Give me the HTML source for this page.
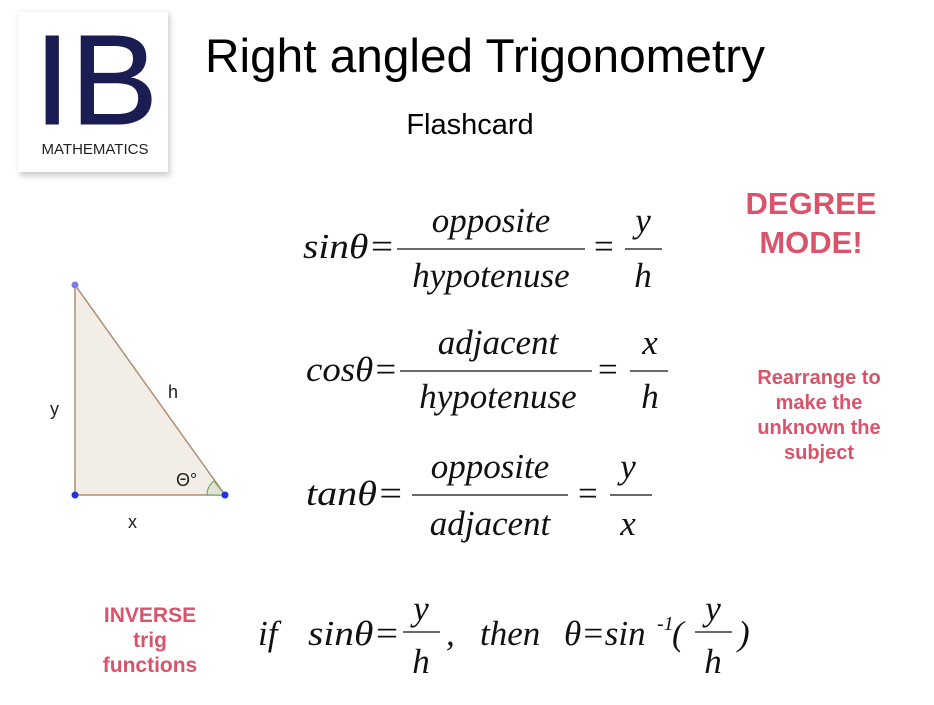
<!DOCTYPE html>
<html><head><meta charset="utf-8"><style>
html,body{margin:0;padding:0;background:#fff;width:934px;height:705px;overflow:hidden}
svg{display:block}
.s{font-family:"Liberation Sans",sans-serif}
.m{font-family:"Liberation Serif",serif;font-style:italic;font-size:35px}
.r{font-family:"Liberation Sans",sans-serif;font-weight:bold;fill:#d9546a;text-anchor:middle}
</style></head><body>
<svg width="934" height="705" viewBox="0 0 934 705">
<defs><filter id="sh" x="-20%" y="-20%" width="140%" height="140%"><feGaussianBlur stdDeviation="3"/></filter></defs>
<rect x="20" y="14" width="150" height="162" fill="#ccc" filter="url(#sh)"/>
<rect x="18" y="12" width="150" height="160" fill="#fff"/>
<text x="34" y="124" class="s" font-size="128" fill="#1a1d52" stroke="#1a1d52" stroke-width="1" textLength="124" lengthAdjust="spacingAndGlyphs">IB</text>
<text x="95" y="154" class="s" font-size="15" fill="#222" text-anchor="middle">MATHEMATICS</text>
<text x="205" y="72" class="s" font-size="47" fill="#000" textLength="560" lengthAdjust="spacingAndGlyphs">Right angled Trigonometry</text>
<text x="470" y="134" class="s" font-size="29" fill="#000" text-anchor="middle">Flashcard</text>
<text x="811" y="214" class="r" font-size="31">DEGREE</text>
<text x="811" y="253" class="r" font-size="31">MODE!</text>
<text x="819" y="384" class="r" font-size="20">Rearrange to</text>
<text x="819" y="409" class="r" font-size="20">make the</text>
<text x="819" y="434" class="r" font-size="20">unknown the</text>
<text x="819" y="459" class="r" font-size="20">subject</text>
<text x="150" y="622" class="r" font-size="21">INVERSE</text>
<text x="150" y="647" class="r" font-size="21">trig</text>
<text x="150" y="672" class="r" font-size="21">functions</text>
<polygon points="75,285 75,495 225,495" fill="#f3ede8" stroke="#b08f72" stroke-width="1.5"/>
<path d="M207,495 A18,18 0 0 1 214,481 L225,495Z" fill="#dfe3d6" stroke="#6a9a5a" stroke-width="1"/>
<circle cx="75" cy="285" r="3.5" fill="#7d7fe0"/>
<circle cx="75" cy="495" r="3.5" fill="#2233dd"/>
<circle cx="225" cy="495" r="3.5" fill="#2233dd"/>
<g class="s" font-size="18" fill="#222">
<text x="50" y="415">y</text><text x="168" y="398">h</text><text x="176" y="486">Θ°</text><text x="128" y="528">x</text></g>
<g class="m" fill="#111">
<text x="303" y="258" textLength="92" lengthAdjust="spacingAndGlyphs">sinθ=</text>
<text x="491" y="232" text-anchor="middle">opposite</text>
<line x1="397" y1="249" x2="585" y2="249" stroke="#111" stroke-width="1.3"/>
<text x="491" y="287" text-anchor="middle">hypotenuse</text>
<text x="594" y="258" style="font-style:normal">=</text>
<text x="643" y="232" text-anchor="middle">y</text>
<line x1="625" y1="249" x2="662" y2="249" stroke="#111" stroke-width="1.3"/>
<text x="643" y="287" text-anchor="middle">h</text>

<text x="306" y="381" textLength="92" lengthAdjust="spacingAndGlyphs">cosθ=</text>
<text x="498" y="354" text-anchor="middle">adjacent</text>
<line x1="400" y1="371" x2="592" y2="371" stroke="#111" stroke-width="1.3"/>
<text x="498" y="408" text-anchor="middle">hypotenuse</text>
<text x="598" y="381" style="font-style:normal">=</text>
<text x="650" y="354" text-anchor="middle">x</text>
<line x1="630" y1="371" x2="668" y2="371" stroke="#111" stroke-width="1.3"/>
<text x="650" y="408" text-anchor="middle">h</text>

<text x="306" y="505" textLength="98" lengthAdjust="spacingAndGlyphs">tanθ=</text>
<text x="490" y="478" text-anchor="middle">opposite</text>
<line x1="412" y1="495" x2="568" y2="495" stroke="#111" stroke-width="1.3"/>
<text x="490" y="535" text-anchor="middle">adjacent</text>
<text x="578" y="505" style="font-style:normal">=</text>
<text x="628" y="478" text-anchor="middle">y</text>
<line x1="610" y1="495" x2="652" y2="495" stroke="#111" stroke-width="1.3"/>
<text x="628" y="535" text-anchor="middle">x</text>

<text x="258" y="645">if</text>
<text x="308" y="645" textLength="92" lengthAdjust="spacingAndGlyphs">sinθ=</text>
<text x="421" y="620" text-anchor="middle">y</text>
<line x1="403" y1="632" x2="440" y2="632" stroke="#111" stroke-width="1.3"/>
<text x="421" y="673" text-anchor="middle">h</text>
<text x="446" y="645">,</text>
<text x="480" y="645">then</text>
<text x="564" y="645">θ=sin</text>
<text x="657" y="630" font-size="20">-1</text>
<text x="672" y="645">(</text>
<text x="713" y="620" text-anchor="middle">y</text>
<line x1="695" y1="632" x2="732" y2="632" stroke="#111" stroke-width="1.3"/>
<text x="713" y="673" text-anchor="middle">h</text>
<text x="738" y="645">)</text>
</g>
</svg>
</body></html>
